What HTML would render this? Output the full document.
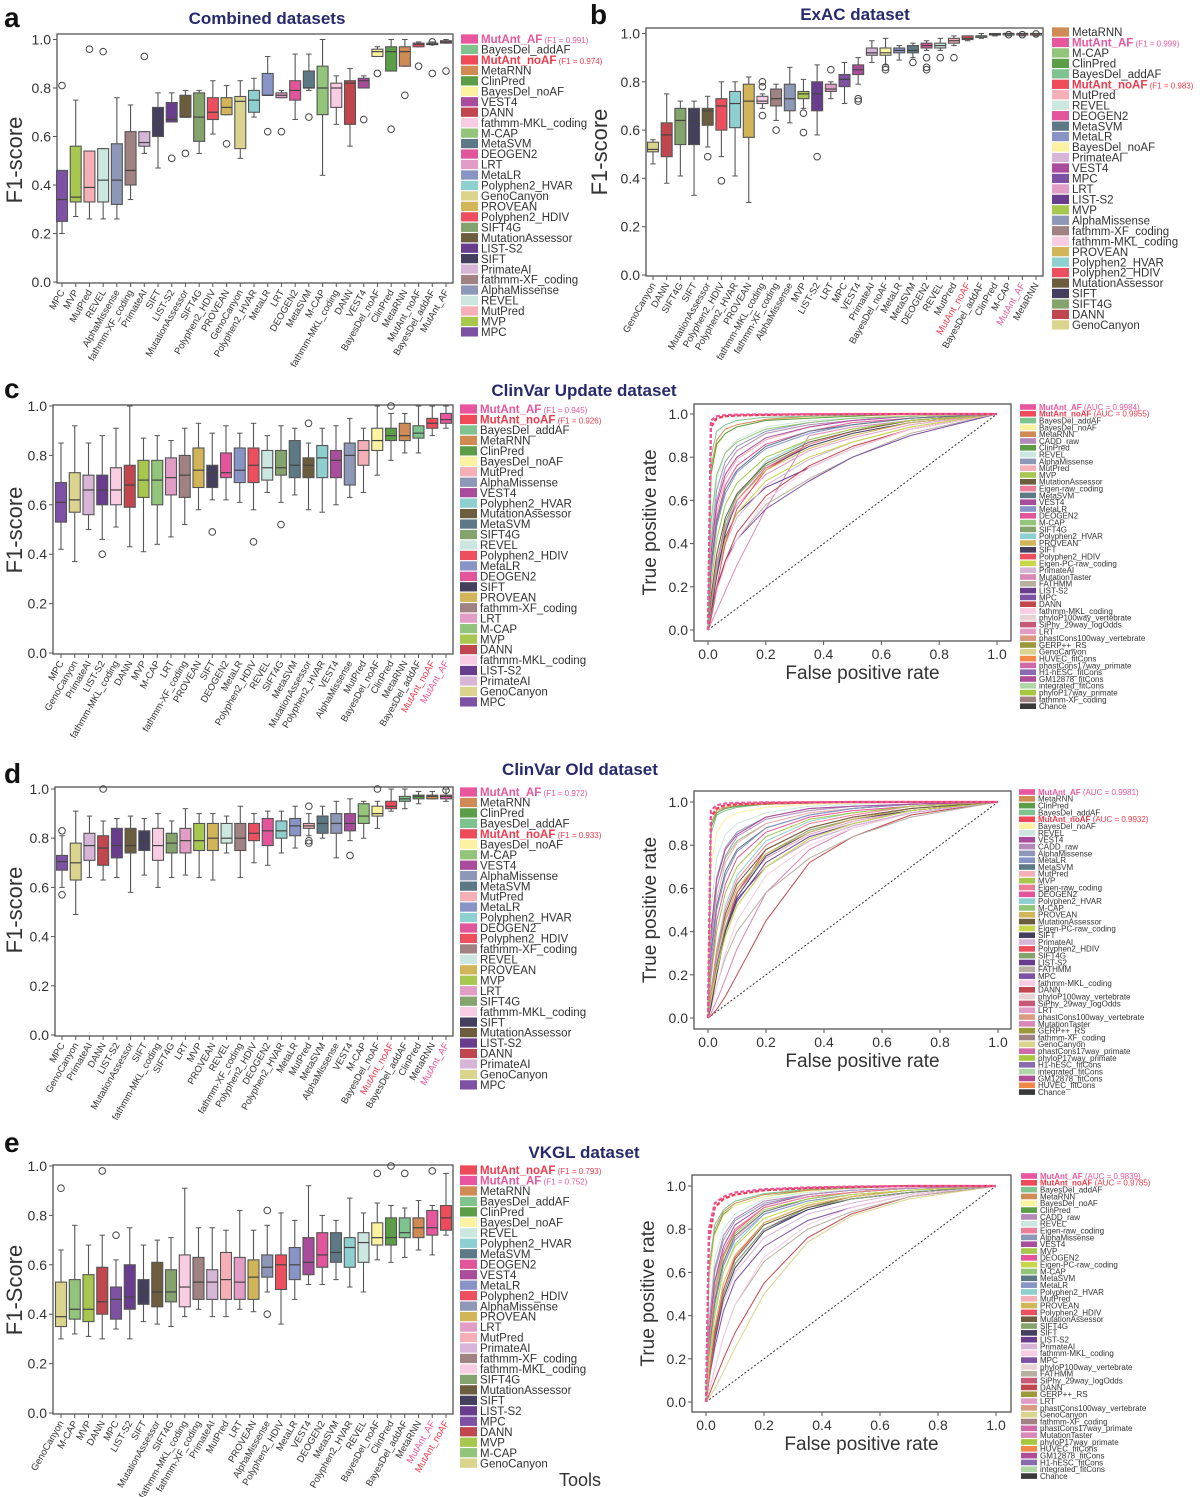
<!DOCTYPE html>
<html><head><meta charset="utf-8">
<style>
html,body{margin:0;padding:0;background:#fff;}
svg{display:block;font-family:"Liberation Sans",Arial,sans-serif;}
</style></head>
<body>
<svg id="fig" width="1200" height="1497" viewBox="0 0 1200 1497" xmlns="http://www.w3.org/2000/svg"></svg>
<script>
// ---------- colours ----------
const COL = {"MutAnt_AF":"#e8579d","MutAnt_noAF":"#ee4a5a","BayesDel_addAF":"#7fc48f","BayesDel_noAF":"#fbf2a2","MetaRNN":"#d08b55","ClinPred":"#5c9d47","VEST4":"#aa4c9c","DANN":"#c0474e","fathmm-MKL_coding":"#f8cce2","M-CAP":"#92c57a","MetaSVM":"#5d7985","DEOGEN2":"#e2559a","LRT":"#e29dc7","MetaLR":"#8994c6","Polyphen2_HVAR":"#8ecfcf","GenoCanyon":"#dbd48c","PROVEAN":"#d3b559","Polyphen2_HDIV":"#ee4f5f","SIFT4G":"#85a36d","MutationAssessor":"#6d5d3f","LIST-S2":"#693d8d","SIFT":"#433f5d","PrimateAI":"#d6b5d7","fathmm-XF_coding":"#a08282","AlphaMissense":"#8d97b7","REVEL":"#cbe7df","MutPred":"#f4afb7","MVP":"#a7c74f","MPC":"#7d51a3","CADD_raw":"#b389b7","Eigen-raw_coding":"#ee7d97","Eigen-PC-raw_coding":"#c7d749","FATHMM":"#b7afa0","MutationTaster":"#d889b7","phyloP100way_vertebrate":"#e7d3d3","SiPhy_29way_logOdds":"#c75977","phastCons100way_vertebrate":"#db9b83","GERP++_RS":"#9b993a","HUVEC_fitCons":"#f28947","phastCons17way_primate":"#cf69a7","H1-hESC_fitCons":"#8969af","GM12878_fitCons":"#af4d97","integrated_fitCons":"#afd7a7","phyloP17way_primate":"#a7c73f","Chance":"#3a3a3a"};

// ---------- panel a data ----------
const aNames=["MPC","MVP","MutPred","REVEL","AlphaMissense","fathmm-XF_coding","PrimateAI","SIFT","LIST-S2","MutationAssessor","SIFT4G","Polyphen2_HDIV","PROVEAN","GenoCanyon","Polyphen2_HVAR","MetaLR","LRT","DEOGEN2","MetaSVM","M-CAP","fathmm-MKL_coding","DANN","VEST4","BayesDel_noAF","ClinPred","MetaRNN","MutAnt_noAF","BayesDel_addAF","MutAnt_AF"];
const aLo=[0.2,0.27,0.26,0.26,0.26,0.34,0.53,0.47,0.66,0.68,0.53,0.61,0.69,0.51,0.68,0.77,0.76,0.67,0.79,0.44,0.65,0.56,0.80,0.93,0.87,0.89,0.97,0.98,0.985];
const aQ1=[0.25,0.33,0.33,0.33,0.32,0.40,0.56,0.60,0.66,0.68,0.58,0.67,0.69,0.55,0.70,0.77,0.76,0.75,0.80,0.69,0.72,0.65,0.80,0.93,0.87,0.89,0.97,0.98,0.985];
const aMed=[0.34,0.35,0.39,0.42,0.42,0.46,0.575,0.65,0.67,0.68,0.68,0.70,0.72,0.745,0.75,0.77,0.77,0.79,0.80,0.80,0.80,0.82,0.83,0.95,0.95,0.95,0.98,0.98,0.99];
const aQ3=[0.46,0.56,0.54,0.55,0.57,0.62,0.62,0.72,0.74,0.77,0.78,0.76,0.76,0.765,0.79,0.86,0.78,0.83,0.87,0.89,0.82,0.83,0.84,0.96,0.97,0.97,0.985,0.985,0.995];
const aHi=[0.46,0.75,0.54,0.55,0.76,0.73,0.62,0.78,0.78,0.79,0.79,0.83,0.81,0.83,0.84,0.93,0.79,0.94,0.94,1.0,0.85,0.88,0.85,0.97,1.0,1.0,0.99,0.99,1.0];
const aOut=[[0.81],[],[0.96],[0.95],[],[],[0.93],[],[0.51],[0.53],[],[],[0.57],[],[],[0.62],[0.62],[],[0.68],[],[],[],[0.67],[0.86],[0.63],[0.77],[0.89],[0.99,0.86],[0.87]];
const aLegend=["MutAnt_AF","BayesDel_addAF","MutAnt_noAF","MetaRNN","ClinPred","BayesDel_noAF","VEST4","DANN","fathmm-MKL_coding","M-CAP","MetaSVM","DEOGEN2","LRT","MetaLR","Polyphen2_HVAR","GenoCanyon","PROVEAN","Polyphen2_HDIV","SIFT4G","MutationAssessor","LIST-S2","SIFT","PrimateAI","fathmm-XF_coding","AlphaMissense","REVEL","MutPred","MVP","MPC"];
const aF1={"MutAnt_AF":"0.991","MutAnt_noAF":"0.974"};

// ---------- panel b data ----------
const bNames=["GenoCanyon","DANN","SIFT4G","SIFT","MutationAssessor","Polyphen2_HDIV","Polyphen2_HVAR","PROVEAN","fathmm-MKL_coding","fathmm-XF_coding","AlphaMissense","MVP","LIST-S2","LRT","MPC","VEST4","PrimateAI","BayesDel_noAF","MetaLR","MetaSVM","DEOGEN2","REVEL","MutPred","MutAnt_noAF","BayesDel_addAF","ClinPred","M-CAP","MutAnt_AF","MetaRNN"];
const bLo=[0.46,0.38,0.41,0.33,0.53,0.49,0.41,0.30,0.69,0.64,0.63,0.69,0.58,0.73,0.71,0.79,0.88,0.87,0.89,0.90,0.93,0.93,0.95,0.97,0.98,0.99,0.99,0.99,0.99];
const bQ1=[0.51,0.49,0.54,0.54,0.62,0.60,0.61,0.57,0.71,0.70,0.68,0.73,0.68,0.76,0.78,0.83,0.91,0.91,0.92,0.92,0.94,0.94,0.96,0.975,0.985,0.995,0.995,0.995,0.995];
const bMed=[0.52,0.58,0.64,0.64,0.68,0.70,0.71,0.72,0.72,0.73,0.73,0.75,0.75,0.77,0.81,0.85,0.92,0.92,0.93,0.93,0.95,0.95,0.97,0.98,0.99,0.997,1.0,1.0,1.0];
const bQ3=[0.55,0.63,0.69,0.69,0.69,0.73,0.76,0.79,0.74,0.77,0.79,0.76,0.80,0.79,0.83,0.87,0.94,0.94,0.94,0.95,0.96,0.96,0.98,0.99,0.99,1.0,1.0,1.0,1.0];
const bHi=[0.56,0.75,0.72,0.72,0.74,0.80,0.80,0.82,0.75,0.79,0.86,0.81,0.87,0.80,0.88,0.90,0.97,0.98,0.95,0.96,0.97,0.98,0.99,0.99,1.0,1.0,1.0,1.0,1.0];
const bOut=[[],[],[],[],[0.49],[0.39],[],[],[0.66,0.78,0.80],[0.60],[],[0.67,0.59],[0.49],[0.85],[],[0.73,0.72],[],[0.86,0.85],[],[0.88],[0.90,0.86,0.85],[0.90],[0.90],[],[],[],[0.995],[0.995],[0.998]];
const bLegend=["MetaRNN","MutAnt_AF","M-CAP","ClinPred","BayesDel_addAF","MutAnt_noAF","MutPred","REVEL","DEOGEN2","MetaSVM","MetaLR","BayesDel_noAF","PrimateAI","VEST4","MPC","LRT","LIST-S2","MVP","AlphaMissense","fathmm-XF_coding","fathmm-MKL_coding","PROVEAN","Polyphen2_HVAR","Polyphen2_HDIV","MutationAssessor","SIFT","SIFT4G","DANN","GenoCanyon"];
const bF1={"MutAnt_AF":"0.999","MutAnt_noAF":"0.983"};

// ---------- panel c data ----------
const cNames=["MPC","GenoCanyon","PrimateAI","LIST-S2","fathmm-MKL_coding","DANN","MVP","M-CAP","LRT","fathmm-XF_coding","PROVEAN","SIFT","DEOGEN2","MetaLR","Polyphen2_HDIV","REVEL","SIFT4G","MetaSVM","MutationAssessor","Polyphen2_HVAR","VEST4","AlphaMissense","MutPred","BayesDel_noAF","ClinPred","MetaRNN","BayesDel_addAF","MutAnt_noAF","MutAnt_AF"];
const cLo=[0.42,0.37,0.50,0.46,0.51,0.43,0.41,0.44,0.47,0.52,0.58,0.62,0.62,0.61,0.58,0.65,0.61,0.64,0.58,0.57,0.60,0.63,0.65,0.72,0.78,0.81,0.81,0.88,0.91];
const cQ1=[0.53,0.57,0.56,0.60,0.60,0.59,0.63,0.60,0.64,0.63,0.67,0.67,0.71,0.69,0.69,0.70,0.72,0.71,0.71,0.71,0.71,0.68,0.76,0.82,0.86,0.86,0.87,0.91,0.93];
const cMed=[0.61,0.62,0.66,0.66,0.66,0.68,0.70,0.70,0.71,0.72,0.74,0.73,0.73,0.74,0.76,0.75,0.75,0.76,0.76,0.79,0.78,0.80,0.82,0.86,0.88,0.88,0.89,0.93,0.945];
const cQ3=[0.69,0.73,0.72,0.72,0.75,0.76,0.78,0.78,0.79,0.80,0.83,0.76,0.81,0.83,0.83,0.82,0.82,0.86,0.79,0.84,0.82,0.85,0.86,0.91,0.91,0.93,0.92,0.95,0.97];
const cHi=[0.85,0.92,0.85,0.88,0.91,1.0,0.87,0.88,0.86,0.91,0.93,0.89,0.92,0.89,0.93,0.88,0.92,0.91,0.85,0.91,0.92,0.95,0.91,1.0,0.97,0.97,1.0,1.0,1.0];
const cOut=[[],[],[],[0.40],[],[],[],[],[],[],[],[0.49],[],[],[0.45],[],[0.52],[],[0.93],[],[],[],[],[],[1.0],[],[],[],[]];
const cLegend=["MutAnt_AF","MutAnt_noAF","BayesDel_addAF","MetaRNN","ClinPred","BayesDel_noAF","MutPred","AlphaMissense","VEST4","Polyphen2_HVAR","MutationAssessor","MetaSVM","SIFT4G","REVEL","Polyphen2_HDIV","MetaLR","DEOGEN2","SIFT","PROVEAN","fathmm-XF_coding","LRT","M-CAP","MVP","DANN","fathmm-MKL_coding","LIST-S2","PrimateAI","GenoCanyon","MPC"];
const cF1={"MutAnt_AF":"0.945","MutAnt_noAF":"0.926"};

// ---------- panel d data ----------
const dNames=["MPC","GenoCanyon","PrimateAI","DANN","LIST-S2","MutationAssessor","SIFT","fathmm-MKL_coding","SIFT4G","LRT","MVP","PROVEAN","REVEL","fathmm-XF_coding","Polyphen2_HDIV","DEOGEN2","Polyphen2_HVAR","MetaLR","MutPred","MetaSVM","AlphaMissense","VEST4","M-CAP","BayesDel_noAF","MutAnt_noAF","BayesDel_addAF","ClinPred","MetaRNN","MutAnt_AF"];
const dLo=[0.60,0.49,0.64,0.63,0.64,0.58,0.65,0.60,0.64,0.65,0.64,0.63,0.74,0.64,0.70,0.69,0.74,0.76,0.81,0.80,0.72,0.79,0.80,0.84,0.91,0.92,0.94,0.96,0.95];
const dQ1=[0.67,0.63,0.71,0.69,0.72,0.74,0.75,0.71,0.74,0.74,0.75,0.75,0.78,0.75,0.79,0.77,0.80,0.81,0.84,0.82,0.82,0.83,0.86,0.89,0.92,0.95,0.96,0.96,0.96];
const dMed=[0.705,0.70,0.77,0.76,0.77,0.77,0.79,0.77,0.78,0.79,0.79,0.80,0.80,0.80,0.82,0.83,0.83,0.85,0.85,0.86,0.86,0.86,0.89,0.90,0.93,0.96,0.97,0.97,0.97];
const dQ3=[0.73,0.78,0.82,0.81,0.84,0.84,0.83,0.84,0.82,0.84,0.86,0.86,0.86,0.86,0.86,0.88,0.87,0.88,0.86,0.89,0.90,0.90,0.94,0.93,0.95,0.97,0.975,0.975,0.975];
const dHi=[0.81,0.91,0.89,0.87,0.88,0.89,0.88,0.90,0.87,0.92,0.90,0.90,0.89,0.93,0.90,0.91,0.91,0.93,0.90,0.93,0.95,0.96,0.95,0.95,1.0,1.0,0.99,0.99,1.0];
const dOut=[[0.83,0.57],[],[],[1.0],[],[],[],[],[],[],[],[],[],[],[],[],[],[],[0.93,0.79,0.78],[],[],[0.73],[],[1.0],[],[],[],[],[0.995]];
const dLegend=["MutAnt_AF","MetaRNN","ClinPred","BayesDel_addAF","MutAnt_noAF","BayesDel_noAF","M-CAP","VEST4","AlphaMissense","MetaSVM","MutPred","MetaLR","Polyphen2_HVAR","DEOGEN2","Polyphen2_HDIV","fathmm-XF_coding","REVEL","PROVEAN","MVP","LRT","SIFT4G","fathmm-MKL_coding","SIFT","MutationAssessor","LIST-S2","DANN","PrimateAI","GenoCanyon","MPC"];
const dF1={"MutAnt_AF":"0.972","MutAnt_noAF":"0.933"};

// ---------- panel e data ----------
const eNames=["GenoCanyon","M-CAP","MVP","DANN","MPC","LIST-S2","SIFT","MutationAssessor","SIFT4G","fathmm-MKL_coding","fathmm-XF_coding","PrimateAI","MutPred","LRT","PROVEAN","AlphaMissense","Polyphen2_HDIV","MetaLR","VEST4","DEOGEN2","MetaSVM","Polyphen2_HVAR","REVEL","BayesDel_noAF","ClinPred","BayesDel_addAF","MetaRNN","MutAnt_AF","MutAnt_noAF"];
const eLo=[0.30,0.32,0.31,0.30,0.34,0.30,0.37,0.36,0.35,0.39,0.42,0.39,0.39,0.42,0.41,0.49,0.36,0.46,0.52,0.52,0.54,0.51,0.49,0.62,0.61,0.63,0.66,0.64,0.72];
const eQ1=[0.35,0.38,0.37,0.40,0.38,0.42,0.44,0.43,0.45,0.43,0.46,0.46,0.46,0.46,0.46,0.55,0.50,0.54,0.56,0.59,0.61,0.59,0.61,0.68,0.68,0.71,0.71,0.72,0.74];
const eMed=[0.39,0.42,0.42,0.45,0.46,0.47,0.49,0.49,0.49,0.51,0.53,0.53,0.54,0.53,0.55,0.59,0.60,0.60,0.61,0.64,0.65,0.67,0.69,0.71,0.71,0.73,0.75,0.75,0.79];
const eQ3=[0.53,0.54,0.56,0.59,0.51,0.60,0.54,0.61,0.58,0.64,0.63,0.58,0.65,0.63,0.62,0.64,0.64,0.67,0.71,0.73,0.73,0.71,0.73,0.77,0.79,0.79,0.79,0.82,0.84];
const eHi=[0.66,0.76,0.68,0.72,0.62,0.75,0.68,0.70,0.71,0.91,0.75,0.75,0.74,0.82,0.74,0.76,0.81,0.78,0.92,0.80,0.78,0.87,0.81,0.85,0.84,0.83,0.86,0.84,0.97];
const eOut=[[0.91],[],[],[0.98],[0.72],[],[],[],[],[],[],[],[],[],[],[0.82,0.40],[],[],[],[],[],[],[],[0.97],[1.0],[0.97],[],[0.98],[]];
const eLegend=["MutAnt_noAF","MutAnt_AF","MetaRNN","BayesDel_addAF","ClinPred","BayesDel_noAF","REVEL","Polyphen2_HVAR","MetaSVM","DEOGEN2","VEST4","MetaLR","Polyphen2_HDIV","AlphaMissense","PROVEAN","LRT","MutPred","PrimateAI","fathmm-XF_coding","fathmm-MKL_coding","SIFT4G","MutationAssessor","SIFT","LIST-S2","MPC","DANN","MVP","M-CAP","GenoCanyon"];
const eF1={"MutAnt_noAF":"0.793","MutAnt_AF":"0.752"};

// ---------- ROC data ----------
const rocFPR=[0,0.01,0.03,0.06,0.1,0.2,0.35,0.5,0.7,1];
const rocCNames=["MutationTaster","FATHMM","MPC","LIST-S2","DANN","fathmm-MKL_coding","PrimateAI","Eigen-PC-raw_coding","LRT","Polyphen2_HDIV","SIFT","PROVEAN","Polyphen2_HVAR","SIFT4G","Eigen-raw_coding","MutationAssessor","MVP","MutPred","MetaLR","DEOGEN2","MetaSVM","CADD_raw","AlphaMissense","VEST4","REVEL","M-CAP","BayesDel_noAF","ClinPred","MetaRNN","BayesDel_addAF","MutAnt_noAF","MutAnt_AF"];
const rocCTPR=[[0,0.03,0.09,0.18,0.3,0.56,0.9,0.94,0.97,1],[0,0.1,0.2,0.32,0.42,0.58,0.7,0.8,0.91,1],[0,0.08,0.2,0.32,0.42,0.56,0.69,0.8,0.9,1],[0,0.12,0.28,0.43,0.54,0.66,0.75,0.84,0.93,1],[0,0.05,0.18,0.32,0.45,0.62,0.76,0.85,0.93,1],[0,0.06,0.18,0.3,0.42,0.6,0.75,0.84,0.93,1],[0,0.1,0.25,0.4,0.52,0.67,0.79,0.87,0.94,1],[0,0.1,0.26,0.42,0.54,0.69,0.8,0.87,0.94,1],[0,0.15,0.32,0.47,0.58,0.72,0.83,0.89,0.95,1],[0,0.05,0.2,0.4,0.56,0.74,0.86,0.92,0.97,1],[0,0.08,0.25,0.45,0.6,0.75,0.85,0.91,0.96,1],[0,0.12,0.3,0.47,0.6,0.74,0.84,0.9,0.96,1],[0,0.1,0.28,0.48,0.62,0.78,0.88,0.93,0.97,1],[0,0.1,0.3,0.5,0.62,0.76,0.86,0.92,0.97,1],[0,0.12,0.3,0.47,0.6,0.75,0.86,0.92,0.97,1],[0,0.15,0.35,0.52,0.63,0.77,0.87,0.92,0.97,1],[0,0.2,0.42,0.58,0.68,0.8,0.88,0.93,0.97,1],[0,0.3,0.55,0.7,0.79,0.88,0.94,0.97,0.99,1],[0,0.25,0.48,0.63,0.73,0.84,0.91,0.95,0.98,1],[0,0.28,0.52,0.67,0.76,0.86,0.92,0.96,0.98,1],[0,0.3,0.5,0.65,0.74,0.85,0.92,0.95,0.98,1],[0,0.35,0.6,0.75,0.83,0.91,0.95,0.97,0.99,1],[0,0.4,0.65,0.78,0.85,0.92,0.96,0.98,0.99,1],[0,0.35,0.58,0.72,0.8,0.89,0.94,0.97,0.99,1],[0,0.45,0.7,0.82,0.88,0.94,0.97,0.98,0.99,1],[0,0.5,0.72,0.82,0.87,0.93,0.96,0.98,0.99,1],[0,0.7,0.85,0.91,0.94,0.97,0.985,0.99,0.995,1],[0,0.72,0.86,0.91,0.94,0.97,0.98,0.99,1,1],[0,0.75,0.88,0.93,0.95,0.975,0.99,0.995,1,1],[0,0.8,0.92,0.95,0.97,0.985,0.99,0.995,1,1],[0,0.94,0.98,0.99,0.993,0.996,0.998,0.999,1,1],[0,0.97,0.99,0.995,0.997,0.998,0.999,1,1,1]];
const rocDNames=["DANN","MutationTaster","FATHMM","MPC","LIST-S2","fathmm-MKL_coding","PrimateAI","LRT","SIFT4G","Polyphen2_HDIV","SIFT","Eigen-PC-raw_coding","PROVEAN","MutationAssessor","M-CAP","Polyphen2_HVAR","DEOGEN2","Eigen-raw_coding","MVP","MutPred","MetaSVM","MetaLR","AlphaMissense","CADD_raw","VEST4","REVEL","BayesDel_noAF","BayesDel_addAF","ClinPred","MetaRNN","MutAnt_noAF","MutAnt_AF"];
const rocDTPR=[[0,0.01,0.04,0.1,0.2,0.45,0.72,0.84,0.94,1],[0,0.02,0.08,0.18,0.32,0.58,0.78,0.88,0.95,1],[0,0.05,0.15,0.28,0.4,0.58,0.74,0.84,0.93,1],[0,0.1,0.25,0.42,0.55,0.7,0.82,0.89,0.95,1],[0,0.08,0.22,0.4,0.54,0.72,0.84,0.9,0.96,1],[0,0.04,0.15,0.3,0.45,0.66,0.8,0.88,0.95,1],[0,0.08,0.22,0.38,0.52,0.7,0.82,0.89,0.95,1],[0,0.1,0.28,0.45,0.58,0.74,0.85,0.91,0.96,1],[0,0.06,0.22,0.42,0.58,0.76,0.87,0.92,0.97,1],[0,0.05,0.2,0.4,0.58,0.78,0.88,0.93,0.97,1],[0,0.05,0.2,0.4,0.56,0.75,0.86,0.92,0.96,1],[0,0.08,0.22,0.38,0.52,0.7,0.83,0.9,0.96,1],[0,0.1,0.28,0.46,0.6,0.76,0.86,0.92,0.97,1],[0,0.12,0.3,0.48,0.62,0.78,0.88,0.93,0.97,1],[0,0.35,0.6,0.74,0.82,0.9,0.95,0.97,0.99,1],[0,0.12,0.32,0.52,0.66,0.82,0.91,0.95,0.98,1],[0,0.2,0.45,0.62,0.74,0.86,0.93,0.96,0.98,1],[0,0.12,0.3,0.5,0.64,0.8,0.9,0.94,0.98,1],[0,0.18,0.4,0.58,0.7,0.84,0.92,0.95,0.98,1],[0,0.3,0.55,0.72,0.81,0.9,0.95,0.97,0.99,1],[0,0.3,0.52,0.68,0.78,0.88,0.94,0.97,0.99,1],[0,0.25,0.5,0.66,0.77,0.88,0.94,0.97,0.99,1],[0,0.4,0.65,0.79,0.86,0.93,0.97,0.98,0.99,1],[0,0.35,0.6,0.75,0.84,0.92,0.96,0.98,0.99,1],[0,0.4,0.64,0.78,0.85,0.93,0.97,0.98,0.99,1],[0,0.5,0.74,0.85,0.9,0.95,0.98,0.99,1,1],[0,0.7,0.86,0.92,0.95,0.975,0.99,0.995,1,1],[0,0.85,0.94,0.96,0.975,0.99,0.995,1,1,1],[0,0.88,0.95,0.97,0.98,0.99,0.995,1,1,1],[0,0.9,0.96,0.975,0.985,0.99,0.995,1,1,1],[0,0.93,0.97,0.985,0.99,0.995,0.998,1,1,1],[0,0.96,0.985,0.993,0.996,0.998,0.999,1,1,1]];
const rocENames=["GenoCanyon","DANN","FATHMM","MPC","fathmm-MKL_coding","PrimateAI","LIST-S2","SIFT","SIFT4G","MutationAssessor","Polyphen2_HDIV","PROVEAN","MutPred","Polyphen2_HVAR","MetaLR","MetaSVM","M-CAP","Eigen-PC-raw_coding","DEOGEN2","MVP","VEST4","AlphaMissense","Eigen-raw_coding","REVEL","CADD_raw","ClinPred","BayesDel_noAF","MetaRNN","BayesDel_addAF","MutAnt_noAF","MutAnt_AF"];
const rocETPR=[[0,0.02,0.06,0.14,0.25,0.5,0.74,0.86,0.94,1],[0,0.03,0.1,0.2,0.32,0.55,0.76,0.87,0.95,1],[0,0.05,0.15,0.3,0.45,0.65,0.8,0.88,0.95,1],[0,0.1,0.25,0.42,0.56,0.72,0.84,0.9,0.96,1],[0,0.05,0.15,0.3,0.45,0.67,0.82,0.9,0.96,1],[0,0.1,0.28,0.46,0.6,0.76,0.87,0.92,0.97,1],[0,0.12,0.32,0.5,0.64,0.8,0.89,0.94,0.97,1],[0,0.1,0.28,0.48,0.62,0.79,0.89,0.94,0.97,1],[0,0.1,0.3,0.5,0.64,0.8,0.9,0.94,0.97,1],[0,0.12,0.32,0.52,0.66,0.82,0.9,0.95,0.98,1],[0,0.1,0.3,0.52,0.67,0.83,0.91,0.95,0.98,1],[0,0.14,0.35,0.55,0.68,0.83,0.91,0.95,0.98,1],[0,0.2,0.45,0.64,0.76,0.88,0.94,0.97,0.99,1],[0,0.16,0.4,0.6,0.73,0.87,0.93,0.96,0.98,1],[0,0.2,0.45,0.63,0.75,0.87,0.93,0.96,0.98,1],[0,0.22,0.47,0.65,0.77,0.88,0.94,0.97,0.99,1],[0,0.3,0.55,0.7,0.8,0.9,0.95,0.97,0.99,1],[0,0.18,0.42,0.6,0.72,0.85,0.92,0.96,0.98,1],[0,0.25,0.5,0.68,0.79,0.9,0.95,0.97,0.99,1],[0,0.25,0.5,0.67,0.78,0.89,0.94,0.97,0.99,1],[0,0.3,0.56,0.72,0.82,0.91,0.96,0.98,0.99,1],[0,0.35,0.6,0.75,0.84,0.92,0.96,0.98,0.99,1],[0,0.25,0.52,0.7,0.8,0.9,0.95,0.97,0.99,1],[0,0.4,0.66,0.8,0.87,0.94,0.97,0.98,0.99,1],[0,0.35,0.62,0.77,0.85,0.93,0.96,0.98,0.99,1],[0,0.55,0.78,0.87,0.91,0.95,0.98,0.99,1,1],[0,0.55,0.77,0.86,0.91,0.95,0.975,0.99,1,1],[0,0.6,0.8,0.88,0.92,0.96,0.98,0.99,1,1],[0,0.62,0.82,0.89,0.93,0.965,0.985,0.99,1,1],[0,0.75,0.9,0.94,0.96,0.98,0.99,0.995,1,1],[0,0.8,0.92,0.95,0.97,0.985,0.993,0.997,1,1]];
const rocCLegend=["MutAnt_AF","MutAnt_noAF","BayesDel_addAF","BayesDel_noAF","MetaRNN","CADD_raw","ClinPred","REVEL","AlphaMissense","MutPred","MVP","MutationAssessor","Eigen-raw_coding","MetaSVM","VEST4","MetaLR","DEOGEN2","M-CAP","SIFT4G","Polyphen2_HVAR","PROVEAN","SIFT","Polyphen2_HDIV","Eigen-PC-raw_coding","PrimateAI","MutationTaster","FATHMM","LIST-S2","MPC","DANN","fathmm-MKL_coding","phyloP100way_vertebrate","SiPhy_29way_logOdds","LRT","phastCons100way_vertebrate","GERP++_RS","GenoCanyon","HUVEC_fitCons","phastCons17way_primate","H1-hESC_fitCons","GM12878_fitCons","integrated_fitCons","phyloP17way_primate","fathmm-XF_coding","Chance"];
const rocDLegend=["MutAnt_AF","MetaRNN","ClinPred","BayesDel_addAF","MutAnt_noAF","BayesDel_noAF","REVEL","VEST4","CADD_raw","AlphaMissense","MetaLR","MetaSVM","MutPred","MVP","Eigen-raw_coding","DEOGEN2","Polyphen2_HVAR","M-CAP","PROVEAN","MutationAssessor","Eigen-PC-raw_coding","SIFT","PrimateAI","Polyphen2_HDIV","SIFT4G","LIST-S2","FATHMM","MPC","fathmm-MKL_coding","DANN","phyloP100way_vertebrate","SiPhy_29way_logOdds","LRT","phastCons100way_vertebrate","MutationTaster","GERP++_RS","fathmm-XF_coding","GenoCanyon","phastCons17way_primate","phyloP17way_primate","H1-hESC_fitCons","integrated_fitCons","GM12878_fitCons","HUVEC_fitCons","Chance"];
const rocELegend=["MutAnt_AF","MutAnt_noAF","BayesDel_addAF","MetaRNN","BayesDel_noAF","ClinPred","CADD_raw","REVEL","Eigen-raw_coding","AlphaMissense","VEST4","MVP","DEOGEN2","Eigen-PC-raw_coding","M-CAP","MetaSVM","MetaLR","Polyphen2_HVAR","MutPred","PROVEAN","Polyphen2_HDIV","MutationAssessor","SIFT4G","SIFT","LIST-S2","PrimateAI","fathmm-MKL_coding","MPC","phyloP100way_vertebrate","FATHMM","SiPhy_29way_logOdds","DANN","GERP++_RS","LRT","phastCons100way_vertebrate","GenoCanyon","fathmm-XF_coding","phastCons17way_primate","MutationTaster","phyloP17way_primate","HUVEC_fitCons","GM12878_fitCons","H1-hESC_fitCons","integrated_fitCons","Chance"];
const rocCAUC={"MutAnt_AF":"0.9984","MutAnt_noAF":"0.9955"};
const rocDAUC={"MutAnt_AF":"0.9981","MutAnt_noAF":"0.9932"};
const rocEAUC={"MutAnt_AF":"0.9839","MutAnt_noAF":"0.9785"};
const yTicks=[0,0.2,0.4,0.6,0.8,1.0];
const yTickLabels=["0.0","0.2","0.4","0.6","0.8","1.0"];

// ---------- helpers ----------
const NS="http://www.w3.org/2000/svg";
const svg=document.getElementById('fig');
function mk(tag,attrs,parent,text){const e=document.createElementNS(NS,tag);for(const k in attrs)e.setAttribute(k,attrs[k]);if(text!==undefined)e.textContent=text;(parent||svg).appendChild(e);return e;}
function grp(name){const g=document.createElementNS(NS,'g');


svg.appendChild(g);return g;}
const MUTC={"MutAnt_AF":"#e8579d","MutAnt_noAF":"#ee3a4c"};

function txt(parent,x,y,s,size,opts){opts=opts||{};const t=mk('text',{x:x,y:y,'font-size':size,fill:opts.fill||'#222','text-anchor':opts.anchor||'start','font-weight':opts.bold?'bold':'normal'},parent,s);if(opts.tr)t.setAttribute('transform',opts.tr);return t;}

function boxPanel(id,cfg,names,lo,q1,med,q3,hi,outs){
  const g=grp(id+'-boxplot');
  const yS=v=>cfg.y0+(cfg.y1-cfg.y0)*v;
  const n=names.length;const xS=i=>cfg.xf+(cfg.xl-cfg.xf)*i/(n-1);
  const step=(cfg.xl-cfg.xf)/(n-1);const bw=step*0.8;
  const fr=mk('rect',{x:cfg.L,y:cfg.T,width:cfg.R-cfg.L,height:cfg.B-cfg.T,fill:'none',stroke:'#555','stroke-width':1.3},g);
  
  
  yTicks.forEach((v,k)=>{const y=yS(v);mk('line',{x1:cfg.L-4,x2:cfg.L,y1:y,y2:y,stroke:'#555'},g);
    const t=txt(g,cfg.L-6,y+5,yTickLabels[k],14,{anchor:'end',fill:'#333'});
    
    });
  for(let i=0;i<n;i++){
    const x=xS(i);const c=COL[names[i]];
    const b=document.createElementNS(NS,'g');
    
    
    g.appendChild(b);
    mk('line',{x1:x,x2:x,y1:yS(hi[i]),y2:yS(q3[i]),stroke:'#555','stroke-width':1.1},b);
    mk('line',{x1:x,x2:x,y1:yS(q1[i]),y2:yS(lo[i]),stroke:'#555','stroke-width':1.1},b);
    mk('line',{x1:x-bw*0.25,x2:x+bw*0.25,y1:yS(hi[i]),y2:yS(hi[i]),stroke:'#555'},b);
    mk('line',{x1:x-bw*0.25,x2:x+bw*0.25,y1:yS(lo[i]),y2:yS(lo[i]),stroke:'#555'},b);
    const top=yS(q3[i]),bot=yS(q1[i]);
    mk('rect',{x:x-bw/2,y:top,width:bw,height:Math.max(bot-top,1.5),fill:c,stroke:'#555','stroke-width':1.1},b);
    mk('line',{x1:x-bw/2,x2:x+bw/2,y1:yS(med[i]),y2:yS(med[i]),stroke:'#444','stroke-width':1.2},b);
    outs[i].forEach(o=>mk('circle',{cx:x,cy:yS(o),r:3.3,fill:'none',stroke:'#444','stroke-width':1},b));
    mk('line',{x1:x,x2:x,y1:cfg.B,y2:cfg.B+4,stroke:'#555'},g);
    const col=(cfg.redLabels&&MUTC[names[i]])?MUTC[names[i]]:'#333';
    const t=txt(g,x+3,cfg.B+9,names[i],9.5,{anchor:'end',fill:col,tr:'rotate(-60 '+(x+3)+' '+(cfg.B+9)+')'});
    
    
  }
}
function legend(id,x,y0,step,list,extra,sw,fs,exfs,extraLabel){
  const g=grp(id+'-legend');
  list.forEach((nm,i)=>{const y=y0+step*i;
    const it=document.createElementNS(NS,'g');
    
    
    g.appendChild(it);
    mk('rect',{x:x,y:y-step/2+0.6,width:sw,height:step-1.2,fill:COL[nm]},it);
    const isM=extra[nm]!==undefined;
    const t=txt(it,x+sw+3,y+fs*0.36,nm,fs,{fill:isM?MUTC[nm]:'#333',bold:isM});
    if(isM){mk('tspan',{'font-size':exfs,'font-weight':'normal'},t,' ('+extraLabel+' = '+extra[nm]+')');}
  });
}
function rocPanel(id,cfg,names,tprs,aucs){
  const g=grp(id+'-roc');
  const xS=v=>cfg.x0+(cfg.x1-cfg.x0)*v;const yS=v=>cfg.y0+(cfg.y1-cfg.y0)*v;
  const fr=mk('rect',{x:cfg.L,y:cfg.T,width:cfg.R-cfg.L,height:cfg.B-cfg.T,fill:'none',stroke:'#555','stroke-width':1.3},g);
  
  
  yTicks.forEach((v,k)=>{const y=yS(v);mk('line',{x1:cfg.L-4,x2:cfg.L,y1:y,y2:y,stroke:'#555'},g);
    txt(g,cfg.L-6,y+5,yTickLabels[k],14,{anchor:'end',fill:'#333'});
    const x=xS(v);mk('line',{x1:x,x2:x,y1:cfg.B,y2:cfg.B+4,stroke:'#555'},g);
    txt(g,x,cfg.B+18,yTickLabels[k],14,{anchor:'middle',fill:'#333'});});
  const ch=mk('line',{x1:xS(0),y1:yS(0),x2:xS(1),y2:yS(1),stroke:'#333','stroke-dasharray':'2,2','stroke-width':1},g);
  
  
  names.forEach((nm,i)=>{
    const pts=rocFPR.map((f,k)=>xS(f).toFixed(1)+','+yS(tprs[i][k]).toFixed(1)).join(' ');
    const isM=aucs[nm]!==undefined;
    const p=mk('polyline',{points:pts,fill:'none',stroke:isM?MUTC[nm]:COL[nm],'stroke-width':isM?2.2:1,'stroke-dasharray':isM?'4,2':'none','stroke-linejoin':'round'},g);
    
    
  });
  const yt=txt(g,cfg.L-38,(cfg.T+cfg.B)/2,'True positive rate',19,{anchor:'middle',fill:'#333',tr:'rotate(-90 '+(cfg.L-38)+' '+((cfg.T+cfg.B)/2)+')'});
  
  
  const xt=txt(g,(cfg.L+cfg.R)/2+10,cfg.B+38,'False positive rate',19,{anchor:'middle',fill:'#333'});
  
  
}
function title(s,x,y,name){const t=txt(svg,x,y,s,17,{anchor:'middle',fill:'#262a6c',bold:true});
  
  }
function letter(s,x,y){const t=txt(svg,x,y,s,28,{fill:'#111',bold:true});
  
  }
function ytitle(s,x,y){const t=txt(svg,x,y,s,22,{anchor:'middle',fill:'#333',tr:'rotate(-90 '+x+' '+y+')'});
  
  }

// ---------- build ----------
letter('a',4,27);letter('b',590,24);letter('c',4,398);letter('d',4,783);letter('e',4,1152);
title('Combined datasets',267,24,'title-combined');
title('ExAC dataset',855,20,'title-exac');
title('ClinVar Update dataset',584,396,'title-clinvar-update');
title('ClinVar Old dataset',580,775,'title-clinvar-old');
title('VKGL dataset',584,1158,'title-vkgl');

boxPanel('a',{L:57,R:453,T:34,B:283,y0:282,y1:39.5,xf:62,xl:446},aNames,aLo,aQ1,aMed,aQ3,aHi,aOut);
ytitle('F1-score',22,160);
legend('a',461,39,10.46,aLegend,aF1,17,11.5,8,'F1');

boxPanel('b',{L:646,R:1043,T:28,B:276,y0:275,y1:33.5,xf:653,xl:1036,redLabels:true},bNames,bLo,bQ1,bMed,bQ3,bHi,bOut);
ytitle('F1-score',607,152);
legend('b',1052,32,10.46,bLegend,bF1,17,11.5,8,'F1');

boxPanel('c',{L:53,R:453,T:405,B:654,y0:653,y1:406,xf:61,xl:446,redLabels:true},cNames,cLo,cQ1,cMed,cQ3,cHi,cOut);
ytitle('F1-score',22,530);
legend('c',460,409,10.46,cLegend,cF1,17,11.5,8,'F1');

boxPanel('d',{L:55,R:453,T:787,B:1036,y0:1035,y1:789,xf:62,xl:446,redLabels:true},dNames,dLo,dQ1,dMed,dQ3,dHi,dOut);
ytitle('F1-score',22,910);
legend('d',460,792,10.46,dLegend,dF1,17,11.5,8,'F1');

boxPanel('e',{L:53,R:453,T:1165,B:1414,y0:1413,y1:1166,xf:61,xl:446,redLabels:true},eNames,eLo,eQ1,eMed,eQ3,eHi,eOut);
ytitle('F1-Score',22,1290);
legend('e',460,1170,10.47,eLegend,eF1,17,11.5,8,'F1');
const tools=txt(svg,580,1486,'Tools',18,{anchor:'middle',fill:'#333'});



rocPanel('c',{L:694,R:1011,T:404,B:641,x0:708,x1:997,y0:630,y1:414},rocCNames,rocCTPR,rocCAUC);
legend('c-roc',1020,407,6.8,rocCLegend,rocCAUC,16,8,8,'AUC');
rocPanel('d',{L:694,R:1011,T:791,B:1029,x0:708,x1:998,y0:1018,y1:802},rocDNames,rocDTPR,rocDAUC);
legend('d-roc',1019,792,6.82,rocDLegend,rocDAUC,16,8,8,'AUC');
rocPanel('e',{L:692,R:1011,T:1175,B:1412,x0:706,x1:996,y0:1402,y1:1186},rocENames,rocETPR,rocEAUC);
legend('e-roc',1021,1176,6.82,rocELegend,rocEAUC,16,8,8,'AUC');
</script>
</body></html>
